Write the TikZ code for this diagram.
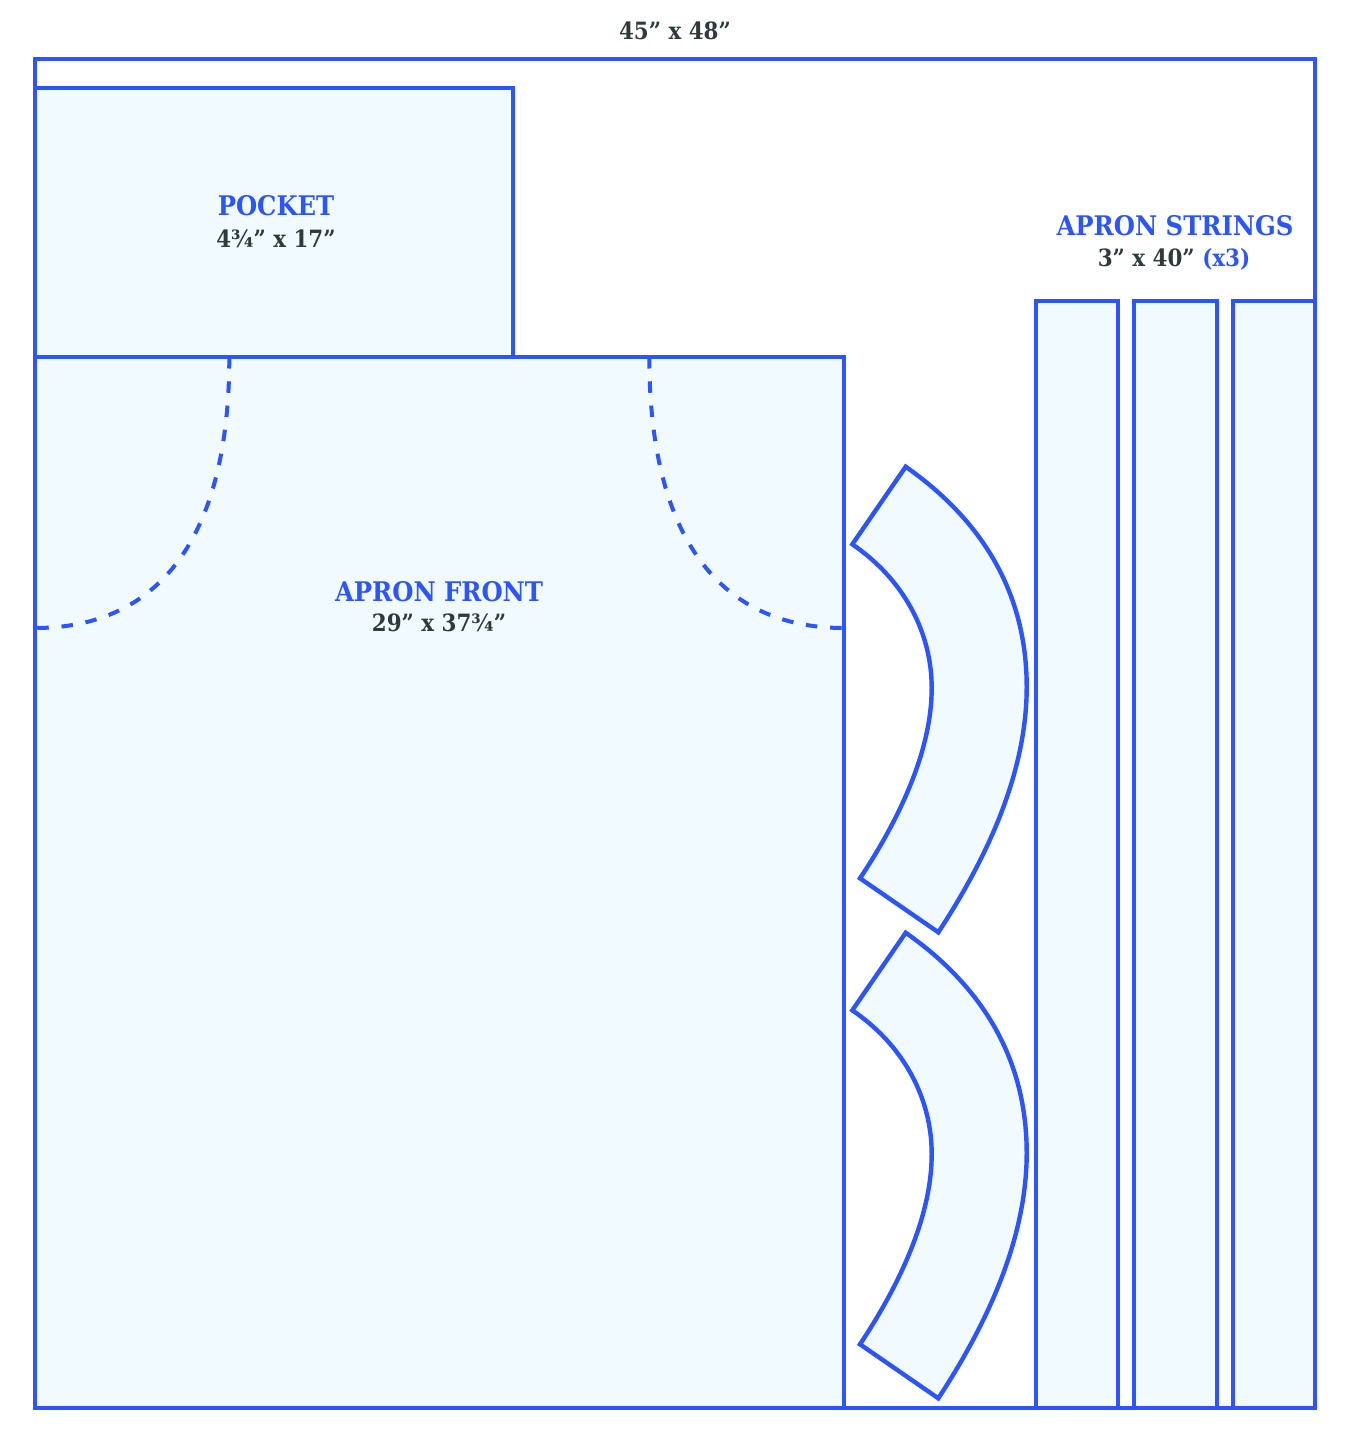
\documentclass[tikz,border=0pt]{standalone}
\usepackage{fontspec}
\setmainfont{DejaVu Serif Condensed}
\definecolor{patternblue}{RGB}{45,85,255}
\definecolor{patternfill}{RGB}{240,250,255}
\definecolor{sizegray}{RGB}{47,58,58}
\tikzset{
  piece/.style={draw=patternblue, line width=4.4pt, fill=patternfill, line join=miter},
  foldline/.style={draw=patternblue, line width=4pt, dash pattern=on 11.5pt off 12.8pt},
  namelabel/.style={anchor=base, inner sep=0pt, text=patternblue, font=\fontsize{27}{27}\selectfont\bfseries},
  sizelabel/.style={anchor=base, inner sep=0pt, text=sizegray, font=\fontsize{23.8}{24}\selectfont\bfseries}
}
\begin{document}
\begin{tikzpicture}[x=1pt, y=-1pt]
            \useasboundingbox (0,0) rectangle (1351,1443);
            \draw[draw=patternblue, line width=4.4pt] (35,59) rectangle (1315,1408);
            \draw[piece] (35,88) rectangle (513,357);
            \draw[piece] (35,357) rectangle (844,1408);
            % neck cut outs
            \draw[foldline] (229.3,357) .. controls (229.3,534) and (162,628) .. (35,628);
            \draw[foldline] (649.3,357) .. controls (649.3,534) and (717,628) .. (844,628);
            % the three strings
            \foreach \xleft/\xright in {1036/1118, 1134/1217, 1233/1315}
                \draw[piece] (\xleft,301) rectangle (\xright,1408);
            % the two neck straps
            \foreach \dy in {0,466}
                \draw[piece, shift={(0,\dy)}] (905.7,466.7)
                    .. controls (986,523) and (1026.7,597) .. (1026.7,687)
                    .. controls (1026.7,777) and (983,864) .. (938.3,932.3)
                    -- (860,878.3)
                    .. controls (900,818) and (931.7,750) .. (931.7,688)
                    .. controls (931.7,635) and (906,581) .. (852.3,544.3)
                    -- cycle;
            \node[sizelabel] (cloth) at (675,39) {45” x 48”};
            \node[namelabel] (pocket) at (276,215) {POCKET};
            \node[sizelabel] (pocketsize) at (276,247) {4¾” x 17”};
            \node[namelabel] (front) at (439,601) {APRON FRONT};
            \node[sizelabel] (frontsize) at (439,631) {29” x 37¾”};
            \node[namelabel] (strings) at (1175,235.5) {APRON STRINGS};
            \node[sizelabel] (stringsize) at (1174,266) {3” x 40” \textcolor{patternblue}{(x3)}};
        \end{tikzpicture}
\end{document}
